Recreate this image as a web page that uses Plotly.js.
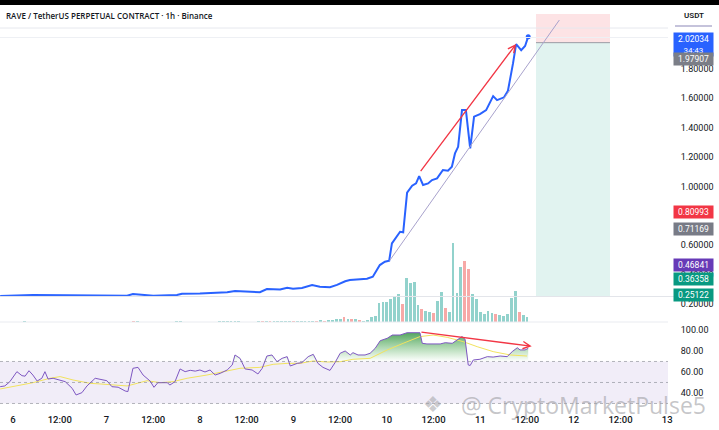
<!DOCTYPE html>
<html><head><meta charset="utf-8">
<script src="https://cdn.plot.ly/plotly-3.0.1.min.js"></script>
<style>html,body{margin:0;padding:0;background:#fff;}#chart{width:719px;height:430px;}</style>
</head><body><div id="chart"></div>
<script>
// ---------- DATA ----------
// x axis: hours since day 6, 00:00
const xTickVals = [0,12,24,36,48,60,72,84,96,108,120,132,144,156,168];
const xTickText = ['6','12:00','7','12:00','8','12:00','9','12:00','10','12:00','11','12:00','12','12:00','13'];
const priceTicks = [0.2,0.4,0.6,1.0,1.2,1.4,1.6,1.8];
const rsiTicks = [40,60,80,100];

const priceTime = [-3.3,5.1,13.9,22.3,29.3,30.8,36.0,42.1,43.4,48.0,55.0,57.0,60.9,63.4,65.2,68.6,70.4,71.9,74.2,76.8,78.8,81.4,83.2,85.3,86.5,89.1,90.9,92.4,94.2,95.5,96.6,97.3,99.4,100.2,101.2,102.5,103.5,104.3,105.3,106.6,107.6,108.9,110.4,111.7,112.7,113.5,114.3,115.3,116.3,117.4,118.4,119.9,121.5,123.3,124.3,126.1,127.1,128.4,129.2,130.5,131.5,132.3];
const priceVal = [0.254,0.261,0.259,0.259,0.256,0.268,0.256,0.261,0.270,0.272,0.280,0.288,0.282,0.280,0.302,0.299,0.311,0.304,0.309,0.329,0.318,0.314,0.330,0.355,0.363,0.370,0.372,0.386,0.465,0.488,0.495,0.613,0.692,0.688,0.958,1.005,1.021,1.071,1.010,1.021,1.044,1.055,1.112,1.107,1.134,1.225,1.270,1.520,1.520,1.260,1.475,1.493,1.520,1.615,1.588,1.607,1.652,1.838,1.969,1.928,1.956,2.020];

// hourly volume, first bar at hour -3
const volStartHour = -3;
const volume = [
 0.4,0.3,0.5,0.3,0.4,0.3,0.6,0.4,0.3,0.3,0.4,0.5,0.3,0.3,0.4,0.3,0.5,0.4,0.3,0.3,0.4,0.3,0.3,0.4,
 0.5,0.4,0.3,0.4,0.3,0.3,0.5,0.3,0.4,0.3,0.9,0.6,0.4,0.3,0.3,0.4,0.3,0.3,0.4,0.3,
 0.4,0.8,0.6,0.5,0.4,0.4,0.3,0.4,0.3,0.4,0.5,0.4,0.7,0.8,0.9,0.6,1.0,0.7,0.5,0.4,
 0.5,0.4,0.6,0.9,1.2,1.4,0.8,0.7,0.6,1.0,0.7,0.8,0.6,0.9,1.1,0.8,1.0,1.2,1.6,1.3,1.8,2.2,
 2.7,2.7,4.7,2.7,3.3,2.7,2.0,1.3,2.0,5.3,6.0,19.3,20.0,20.3,22.7,26.0,27.7,18.0,44.3,38.7,
 39.7,17.0,12.7,10.7,10.3,8.7,21.0,29.7,13.7,10.3,78.7,29.3,54.7,61.0,52.7,27.7,23.0,10.3,8.0,11.0,
 8.7,7.7,7.0,6.0,8.3,24.0,31.0,10.3,6.7,5.3];
const volDownHours = [5,12,30,31,45,52,60,64,66,72,78,80,85,87,89,100,105,108,111,116,117,124,130];

const rsiTime = [-3.3,-2.1,-0.8,1.0,2.3,3.1,4.1,5.1,6.2,7.4,8.2,9.0,10.3,11.6,13.4,15.2,16.2,17.7,19.0,21.1,22.3,24.1,25.4,27.0,28.8,29.5,30.8,32.1,33.4,35.2,36.2,37.2,39.6,40.3,41.6,42.9,44.2,45.5,46.8,48.0,49.3,50.6,51.9,53.2,55.0,56.3,57.0,58.3,59.6,61.4,62.9,64.0,65.2,66.5,67.8,69.1,70.4,71.2,73.0,74.2,75.8,77.1,78.3,79.6,81.4,82.7,84.0,85.3,86.6,87.3,88.6,90.4,91.7,93.0,94.3,96.1,97.4,99.4,101.2,104.5,105.1,106.3,109.7,111.0,112.8,114.1,115.3,116.1,116.9,117.4,118.2,119.9,121.8,123.3,125.1,126.9,128.2,129.5,130.2,131.5,132.3];
const rsiVal = [46,46.7,50.8,60.3,56.5,56,61.2,57.1,51.4,54,60.3,53.3,54,52.4,50.8,44.4,38.1,40.3,46.7,54,53,51.7,46,45.5,41.9,41.3,63.5,64.4,57.1,51.4,45.4,49.8,49.8,47.6,50.8,62.9,60.3,61.6,60.8,61.9,60,61.9,57.1,58.7,61.9,66.7,76.2,73,62.9,61.9,58.1,63.5,75.2,76.2,69.8,73,74.6,65.7,68.2,68.9,74.6,76.8,68.2,64.4,61.5,68.9,77.8,80,76.2,78.4,76.2,76.2,77.8,82.5,89.8,92.1,95.2,95.2,97.4,97.4,87.3,86.7,86.7,87.9,87.3,90.5,93.7,91.1,66.7,66.2,71.4,72.1,74.6,74.2,75.2,74.6,79.4,83.1,81,81,82.5];

const maTime = [-3.3,1.0,5.1,9.5,12.1,15.4,19.8,22.3,26.7,29.3,31.9,34.4,37.8,41.1,44.7,49.8,55.0,58.3,63.4,66.8,70.4,73.7,77.1,80.7,84.0,87.3,91.7,96.1,100.2,104.5,107.9,111.5,115.6,119.2,123.3,127.7,132.0];
const maVal = [43.8,46.7,49.8,54,55.6,52.4,49.2,48.6,47.6,46.7,49.2,51.7,49.8,50.8,54,57.1,61,63.5,64.4,67.3,68.2,68.2,70.5,69.5,69.8,72.1,73,81,87.3,93.7,95.2,93,88.9,84.1,79.4,76.2,75.2];

const rsiLevels = [70,50,30];

// drawings (data units)
const trendX = [96.7,140.3], trendY = [0.495,2.133];
const upArrowX = [104.4,129.2], upArrowY = [1.094,1.970];
const rsiArrowX = [104.5,133.2], rsiArrowY = [98.1,84.5];
const posX = [134.3,153.3];
const posEntry = 1.97907, posStop = 2.174, posTarget = 0.25122;

// right-scale labels
const labelVals = [2.02034,1.97907,0.80993,0.71169,0.46841,0.36358,0.25122];
const countdown = '34:43';

// ---------- BUILD ----------
const TOP = 5, BOT = 408, H = BOT - TOP, W = 668;
const py = p => (BOT - p) / H;
const px = p => p / W;

const volTime = volume.map((v,i)=>volStartHour+i);
const volColors = volTime.map(h => volDownHours.includes(h) ? 'rgba(239,83,80,0.5)' : 'rgba(38,166,154,0.5)');

const traces = [
  {type:'bar', x:volTime, y:volume, xaxis:'x', yaxis:'y3', width:0.72,
   marker:{color:volColors, line:{width:0}}, hoverinfo:'skip'},
  {type:'scatter', mode:'lines', x:priceTime, y:priceVal, xaxis:'x', yaxis:'y',
   line:{color:'#2962ff', width:2}, hoverinfo:'skip'},
  {type:'scatter', mode:'markers', x:[priceTime[priceTime.length-1]], y:[priceVal[priceVal.length-1]],
   xaxis:'x', yaxis:'y', marker:{color:'#2962ff', size:5}, hoverinfo:'skip'},
  {type:'scatter', mode:'lines', x:rsiTime, y:rsiTime.map(()=>rsiLevels[0]), xaxis:'x', yaxis:'y2',
   line:{width:0}, hoverinfo:'skip'},
  {type:'scatter', mode:'lines', x:rsiTime, y:rsiVal.map(v=>Math.max(v,rsiLevels[0])), xaxis:'x', yaxis:'y2',
   line:{width:0}, fill:'tonexty',
   fillgradient:{type:'vertical', start:70, stop:100,
     colorscale:[[0,'rgba(76,175,80,0)'],[1,'rgba(56,150,70,0.95)']]},
   hoverinfo:'skip'},
  {type:'scatter', mode:'lines', x:maTime, y:maVal, xaxis:'x', yaxis:'y2',
   line:{color:'#f2e35e', width:1}, hoverinfo:'skip'},
  {type:'scatter', mode:'lines', x:rsiTime, y:rsiVal, xaxis:'x', yaxis:'y2',
   line:{color:'#7e57c2', width:1}, hoverinfo:'skip'}
];

const shapes = [
  // top dark bar
  {type:'rect', xref:'paper', yref:'paper', x0:-0.01, x1:719/W+0.01, y0:1, y1:1+TOP/H+0.01,
   fillcolor:'#000', line:{width:0}, layer:'above'},
  // header separators
  {type:'line', xref:'paper', yref:'paper', x0:0, x1:1, y0:py(28), y1:py(28), line:{color:'#e6e8ee', width:1}},
  {type:'line', xref:'paper', yref:'paper', x0:0, x1:1, y0:py(37.5), y1:py(37.5), line:{color:'#eef0f4', width:1}},
  // pane separator
  {type:'line', xref:'paper', yref:'paper', x0:0, x1:1, y0:py(322), y1:py(322), line:{color:'#e9ebf0', width:1}},
  // horizontal level at target
  {type:'line', xref:'paper', yref:'y', x0:0, x1:1.01, y0:posTarget, y1:posTarget, line:{color:'#e3e5ea', width:1}},
  // position tool
  {type:'rect', xref:'x', yref:'y', x0:posX[0], x1:posX[1], y0:posEntry, y1:posStop,
   fillcolor:'rgba(242,54,69,0.14)', line:{width:0}, layer:'below'},
  {type:'rect', xref:'x', yref:'y', x0:posX[0], x1:posX[1], y0:posTarget, y1:posEntry,
   fillcolor:'rgba(8,153,129,0.12)', line:{width:0}, layer:'below'},
  {type:'line', xref:'x', yref:'y', x0:posX[0], x1:posX[1], y0:posEntry, y1:posEntry,
   line:{color:'#9a9ca4', width:1}},
  // trend line
  {type:'line', xref:'x', yref:'y', x0:trendX[0], x1:trendX[1], y0:trendY[0], y1:trendY[1],
   line:{color:'#a8a2cc', width:1}},
  // RSI band
  {type:'rect', xref:'paper', yref:'y2', x0:0, x1:1, y0:rsiLevels[2], y1:rsiLevels[0],
   fillcolor:'rgba(126,87,194,0.11)', line:{width:0}, layer:'below'},
  // USDT underline
  {type:'line', xref:'paper', yref:'paper', x0:px(675), x1:px(712), y0:py(26), y1:py(26),
   line:{color:'#8c87b8', width:1.2}}
];
rsiLevels.forEach(l => shapes.push({type:'line', xref:'paper', yref:'y2', x0:0, x1:1, y0:l, y1:l,
  line:{color:'rgba(120,123,134,0.55)', width:1, dash:'dot'}}));

const labelColors = ['#2962ff','#7b7e87','#f23645','#787b86','#673ab7','#089981','#089981'];
const labelShift = [5,-9,2.5,0,0,1,1];
const annotations = [
  {xref:'paper', yref:'paper', x:0, y:py(15), xshift:4, xanchor:'left', yanchor:'middle', showarrow:false,
   text:'RAVE / TetherUS PERPETUAL CONTRACT · 1h · Binance',
   font:{size:8, color:'#131722', family:'"Open Sans", Roboto, sans-serif', weight:600}},
  {xref:'paper', yref:'paper', x:px(693.5), y:py(15), xanchor:'center', yanchor:'middle', showarrow:false,
   text:'USDT', font:{size:8, color:'#131722', weight:600}},
  {xref:'x', yref:'y', axref:'x', ayref:'y', x:upArrowX[1], y:upArrowY[1], ax:upArrowX[0], ay:upArrowY[0],
   showarrow:true, arrowhead:5, arrowsize:1.1, arrowwidth:1.3, arrowcolor:'#f23645', text:''},
  {xref:'x', yref:'y2', axref:'x', ayref:'y2', x:rsiArrowX[1], y:rsiArrowY[1], ax:rsiArrowX[0], ay:rsiArrowY[0],
   showarrow:true, arrowhead:5, arrowsize:1.1, arrowwidth:1.3, arrowcolor:'#f23645', text:''},
  {xref:'paper', yref:'paper', x:px(583), y:py(405), xanchor:'center', yanchor:'middle', showarrow:false,
   text:'@ CryptoMarketPulse5', font:{size:23, color:'rgba(160,160,165,0.6)', family:'"Open Sans", sans-serif'}},
  {xref:'paper', yref:'paper', x:px(433), y:py(404), xanchor:'center', yanchor:'middle', showarrow:false,
   text:'❖', font:{size:22, color:'rgba(160,160,165,0.55)', family:'"DejaVu Sans"'}}
];
labelVals.forEach((v,i) => {
  annotations.push({xref:'paper', yref:'y', x:px(693.5), y:v, xanchor:'center',
    yanchor: i<2 ? 'top' : 'middle', yshift:labelShift[i], showarrow:false,
    text: i===0 ? v.toFixed(5)+'<br><span style="font-size:8px">'+countdown+'</span>' : v.toFixed(5),
    bgcolor:labelColors[i], width:37, borderpad:1, align:'center',
    font:{size:8.5, color:'#fff'}});
});

const layout = {
  width:719, height:430,
  margin:{l:0, r:51, t:TOP, b:430-BOT},
  paper_bgcolor:'#fff', plot_bgcolor:'#fff',
  showlegend:false, bargap:0,
  font:{family:'Roboto, "Open Sans", sans-serif', color:'#131722'},
  xaxis:{domain:[0,1], range:[-3.34,168.2], anchor:'y2', tickmode:'array', tickvals:xTickVals, ticktext:xTickText,
    tickfont:{size:9.5, color:'#131722', weight:500}, ticks:'outside', ticklen:3, tickcolor:'rgba(0,0,0,0)',
    showgrid:false, zeroline:false, showline:false, fixedrange:true},
  yaxis:{domain:[(BOT-322)/H,1], range:[0.0775,2.2354], side:'right', anchor:'x', tickmode:'array',
    tickvals:priceTicks, ticktext:priceTicks.map(v=>v.toFixed(5)), tickfont:{size:9, color:'#131722'},
    ticks:'outside', ticklen:10, tickcolor:'rgba(0,0,0,0)', showgrid:false, zeroline:false, showline:false},
  yaxis2:{domain:[0,(BOT-322)/H], range:[25.7,107.6], side:'right', anchor:'x', tickmode:'array',
    tickvals:rsiTicks, ticktext:rsiTicks.map(v=>v.toFixed(2)), tickfont:{size:9, color:'#131722'},
    ticks:'outside', ticklen:10, tickcolor:'rgba(0,0,0,0)', showgrid:false, zeroline:false, showline:false},
  yaxis3:{overlaying:'y', range:[0,317], visible:false, anchor:'x'},
  shapes:shapes, annotations:annotations
};

Plotly.newPlot('chart', traces, layout, {displayModeBar:false, staticPlot:true});
</script>
</body></html>
